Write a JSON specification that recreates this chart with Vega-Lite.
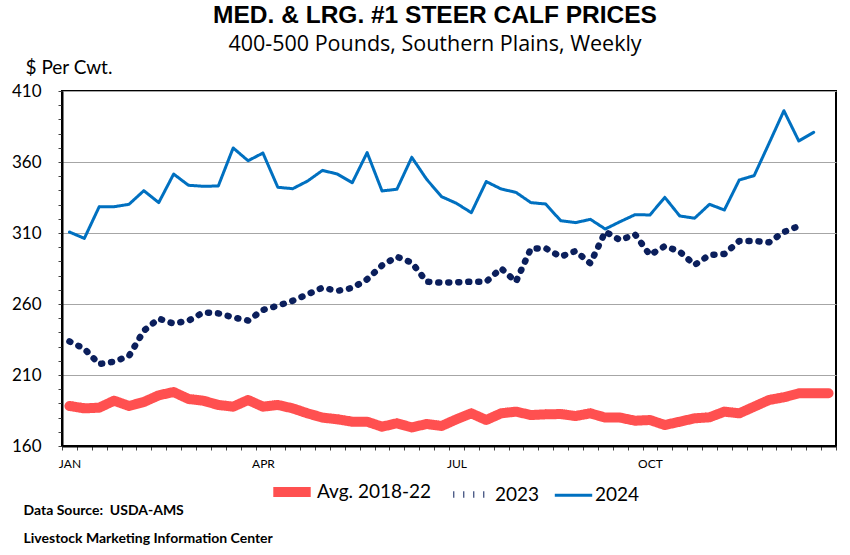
{
  "$schema": "https://vega.github.io/schema/vega-lite/v6.json",
  "description": "Med. & Lrg. #1 steer calf prices, 400-500 lb, Southern Plains, weekly",
  "autosize": {"type": "none"},
  "width": 774,
  "height": 355,
  "padding": {"left": 62, "top": 91, "right": 14, "bottom": 109},
  "background": "white",
  "title": {
    "text": "MED. & LRG. #1 STEER CALF PRICES",
    "subtitle": "400-500 Pounds, Southern Plains, Weekly",
    "anchor": "middle",
    "frame": "group",
    "dx": -14,
    "offset": 2,
    "font": "Liberation Sans",
    "fontSize": 24.5,
    "fontWeight": "bold",
    "color": "black",
    "subtitleFont": "Open Sans",
    "subtitleFontSize": 21.5,
    "subtitleColor": "black",
    "subtitlePadding": 5
  },
  "data": {
    "values": [
      {"week": 1, "avg": 188.2, "y2023": 233.7, "y2024": 310.7},
      {"week": 2, "avg": 186.5, "y2023": 228.5, "y2024": 306.2},
      {"week": 3, "avg": 187.0, "y2023": 217.7, "y2024": 328.5},
      {"week": 4, "avg": 191.9, "y2023": 219.4, "y2024": 328.5},
      {"week": 5, "avg": 188.2, "y2023": 223.4, "y2024": 330.2},
      {"week": 6, "avg": 191.0, "y2023": 241.2, "y2024": 339.8},
      {"week": 7, "avg": 195.7, "y2023": 249.7, "y2024": 331.4},
      {"week": 8, "avg": 198.0, "y2023": 246.2, "y2024": 351.5},
      {"week": 9, "avg": 193.1, "y2023": 248.3, "y2024": 343.6},
      {"week": 10, "avg": 191.9, "y2023": 254.1, "y2024": 342.9},
      {"week": 11, "avg": 188.9, "y2023": 253.4, "y2024": 343.1},
      {"week": 12, "avg": 187.7, "y2023": 250.6, "y2024": 369.9},
      {"week": 13, "avg": 192.4, "y2023": 248.3, "y2024": 360.9},
      {"week": 14, "avg": 187.7, "y2023": 255.8, "y2024": 366.3},
      {"week": 15, "avg": 188.9, "y2023": 258.8, "y2024": 342.2},
      {"week": 16, "avg": 186.5, "y2023": 262.3, "y2024": 341.2},
      {"week": 17, "avg": 183.0, "y2023": 266.8, "y2024": 346.6},
      {"week": 18, "avg": 180.0, "y2023": 271.5, "y2024": 354.1},
      {"week": 19, "avg": 178.8, "y2023": 269.2, "y2024": 351.5},
      {"week": 20, "avg": 177.1, "y2023": 271.3, "y2024": 345.4},
      {"week": 21, "avg": 177.1, "y2023": 277.4, "y2024": 366.6},
      {"week": 22, "avg": 173.6, "y2023": 287.2, "y2024": 339.6},
      {"week": 23, "avg": 176.0, "y2023": 293.3, "y2024": 340.8},
      {"week": 24, "avg": 173.1, "y2023": 289.1, "y2024": 363.3},
      {"week": 25, "avg": 175.5, "y2023": 275.7, "y2024": 347.8},
      {"week": 26, "avg": 174.1, "y2023": 275.0, "y2024": 335.6},
      {"week": 27, "avg": 178.8, "y2023": 275.3, "y2024": 330.9},
      {"week": 28, "avg": 183.0, "y2023": 275.7, "y2024": 324.3},
      {"week": 29, "avg": 178.3, "y2023": 275.7, "y2024": 346.2},
      {"week": 30, "avg": 183.0, "y2023": 285.1, "y2024": 341.0},
      {"week": 31, "avg": 184.2, "y2023": 275.7, "y2024": 338.6},
      {"week": 32, "avg": 181.8, "y2023": 299.0, "y2024": 331.4},
      {"week": 33, "avg": 182.3, "y2023": 299.2, "y2024": 330.4},
      {"week": 34, "avg": 182.5, "y2023": 293.3, "y2024": 318.7},
      {"week": 35, "avg": 181.1, "y2023": 297.3, "y2024": 317.3},
      {"week": 36, "avg": 183.0, "y2023": 288.6, "y2024": 319.6},
      {"week": 37, "avg": 180.0, "y2023": 310.9, "y2024": 312.8},
      {"week": 38, "avg": 180.0, "y2023": 305.0, "y2024": 318.0},
      {"week": 39, "avg": 177.8, "y2023": 309.0, "y2024": 322.9},
      {"week": 40, "avg": 178.3, "y2023": 294.5, "y2024": 322.7},
      {"week": 41, "avg": 174.8, "y2023": 300.8, "y2024": 335.1},
      {"week": 42, "avg": 177.1, "y2023": 296.9, "y2024": 322.0},
      {"week": 43, "avg": 179.5, "y2023": 287.5, "y2024": 320.4},
      {"week": 44, "avg": 180.2, "y2023": 294.5, "y2024": 330.2},
      {"week": 45, "avg": 184.2, "y2023": 295.2, "y2024": 326.2},
      {"week": 46, "avg": 183.0, "y2023": 304.4, "y2024": 347.3},
      {"week": 47, "avg": 187.7, "y2023": 304.4, "y2024": 350.4},
      {"week": 48, "avg": 192.4, "y2023": 303.4, "y2024": 373.1},
      {"week": 49, "avg": 194.3, "y2023": 310.7, "y2024": 396.1},
      {"week": 50, "avg": 197.1, "y2023": 314.9, "y2024": 374.8},
      {"week": 51, "avg": 197.1, "y2023": null, "y2024": 380.9},
      {"week": 52, "avg": 197.1, "y2023": null, "y2024": null}
    ]
  },
  "transform": [
    {"fold": ["avg", "y2023", "y2024"], "as": ["series", "price"]}
  ],
  "mark": {"type": "line", "strokeCap": "round", "strokeJoin": "round", "clip": true},
  "encoding": {
    "x": {
      "field": "week",
      "type": "ordinal",
      "scale": {"type": "band", "paddingInner": 0, "paddingOuter": 0},
      "axis": {
        "title": ["Data Source:\u00a0 USDA-AMS", "Livestock Marketing Information Center"],
        "titleFont": "Lato",
        "titleFontSize": 14,
        "titleFontWeight": "bold",
        "titleColor": "black",
        "titleAnchor": "start",
        "titleAlign": "left",
        "titleBaseline": "middle",
        "titleLineHeight": 28,
        "titleX": -39,
        "titleY": 64,
        "tickBand": "extent",
        "tickSize": 4,
        "tickColor": "#444444",
        "domainColor": "black",
        "domainWidth": 2,
        "labelAngle": 0,
        "labelFont": "Lato",
        "labelFontSize": 12,
        "labelColor": "black",
        "labelPadding": 8,
        "labelExpr": "datum.value == 1 ? 'JAN' : datum.value == 14 ? 'APR' : datum.value == 27 ? 'JUL' : datum.value == 40 ? 'OCT' : ''"
      }
    },
    "y": {
      "field": "price",
      "type": "quantitative",
      "scale": {"domain": [160, 410], "nice": false, "zero": false},
      "axis": {
        "title": "$ Per Cwt.",
        "titleFont": "Lato",
        "titleFontSize": 19,
        "titleFontWeight": "normal",
        "titleColor": "black",
        "titleAngle": 0,
        "titleAlign": "left",
        "titleBaseline": "middle",
        "titleX": -37,
        "titleY": -24,
        "values": [160, 170, 180, 190, 200, 210, 220, 230, 240, 250, 260, 270, 280, 290, 300, 310, 320, 330, 340, 350, 360, 370, 380, 390, 400, 410],
        "labelExpr": "datum.value % 50 == 10 ? datum.label : ''",
        "labelFont": "Lato",
        "labelFontSize": 17,
        "labelColor": "black",
        "labelPadding": 17,
        "tickSize": 4,
        "tickColor": "#444444",
        "domainColor": "black",
        "domainWidth": 2,
        "grid": true,
        "gridColor": "#a6a6a6",
        "gridWidth": 1,
        "gridOpacity": {"condition": {"test": "datum.value % 50 == 10", "value": 1}, "value": 0}
      }
    },
    "color": {
      "field": "series",
      "type": "nominal",
      "scale": {"domain": ["avg", "y2023", "y2024"], "range": ["#ff5050", "#0b1f5c", "#0070c0"]},
      "legend": {
        "title": null,
        "orient": "none",
        "direction": "horizontal",
        "legendX": 206,
        "legendY": 377,
        "symbolType": "stroke",
        "symbolSize": 1400,
        "labelFont": "Lato",
        "labelFontSize": 19,
        "labelColor": "black",
        "labelOffset": 1,
        "columnPadding": 8,
        "labelExpr": "datum.value == 'avg' ? 'Avg. 2018-22' : datum.value == 'y2023' ? '2023' : '2024'"
      }
    },
    "strokeDash": {
      "field": "series",
      "type": "nominal",
      "scale": {"domain": ["avg", "y2023", "y2024"], "range": [[1, 0], [1, 9], [1, 0]]},
      "legend": null
    },
    "strokeWidth": {
      "field": "series",
      "type": "nominal",
      "scale": {"domain": ["avg", "y2023", "y2024"], "range": [10, 3, 4.5]},
      "legend": null
    }
  },
  "config": {
    "view": {"stroke": "black", "strokeWidth": 2},
    "font": "Lato"
  }
}
